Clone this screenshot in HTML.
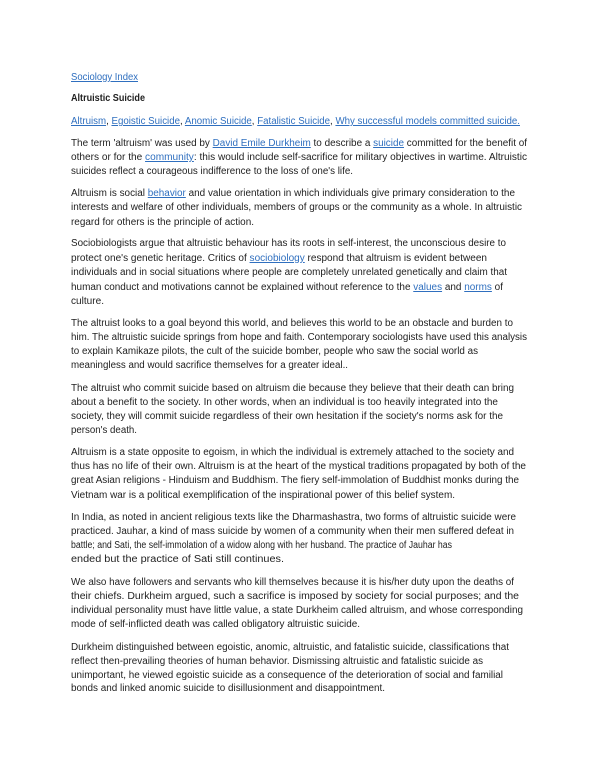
<!DOCTYPE html>
<html><head><meta charset="utf-8"><style>
html,body{margin:0;padding:0;background:#fff;}
svg{display:block}
text{font-family:"Liberation Sans",sans-serif;font-size:10px;fill:#222;}
.l{fill:#2f6fbf;text-decoration:underline;}
</style></head><body>
<svg width="600" height="776" viewBox="0 0 600 776" xmlns="http://www.w3.org/2000/svg">
<rect width="600" height="776" fill="#fff"/>
<text x="71" y="80" textLength="67" lengthAdjust="spacingAndGlyphs"><tspan class="l">Sociology Index</tspan></text>
<text x="71" y="101" textLength="74" lengthAdjust="spacingAndGlyphs" font-weight="bold">Altruistic Suicide</text>
<text x="71" y="124" textLength="449" lengthAdjust="spacingAndGlyphs"><tspan class="l">Altruism</tspan>, <tspan class="l">Egoistic Suicide</tspan>, <tspan class="l">Anomic Suicide</tspan>, <tspan class="l">Fatalistic Suicide</tspan>, <tspan class="l">Why successful models committed suicide.</tspan></text>

<text x="71" y="146" textLength="456" lengthAdjust="spacingAndGlyphs">The term 'altruism' was used by <tspan class="l">David Emile Durkheim</tspan> to describe a <tspan class="l">suicide</tspan> committed for the benefit of</text>
<text x="71" y="160" textLength="456" lengthAdjust="spacingAndGlyphs">others or for the <tspan class="l">community</tspan>: this would include self-sacrifice for military objectives in wartime. Altruistic</text>
<text x="71" y="174" textLength="282" lengthAdjust="spacingAndGlyphs">suicides reflect a courageous indifference to the loss of one's life.</text>

<text x="71" y="196" textLength="444" lengthAdjust="spacingAndGlyphs">Altruism is social <tspan class="l">behavior</tspan> and value orientation in which individuals give primary consideration to the</text>
<text x="71" y="210" textLength="451" lengthAdjust="spacingAndGlyphs">interests and welfare of other individuals, members of groups or the community as a whole. In altruistic</text>
<text x="71" y="225" textLength="183" lengthAdjust="spacingAndGlyphs">regard for others is the principle of action.</text>

<text x="71" y="246" textLength="435" lengthAdjust="spacingAndGlyphs">Sociobiologists argue that altruistic behaviour has its roots in self-interest, the unconscious desire to</text>
<text x="71" y="261" textLength="416" lengthAdjust="spacingAndGlyphs">protect one's genetic heritage. Critics of <tspan class="l">sociobiology</tspan> respond that altruism is evident between</text>
<text x="71" y="275" textLength="436" lengthAdjust="spacingAndGlyphs">individuals and in social situations where people are completely unrelated genetically and claim that</text>
<text x="71" y="290" textLength="432" lengthAdjust="spacingAndGlyphs">human conduct and motivations cannot be explained without reference to the <tspan class="l">values</tspan> and <tspan class="l">norms</tspan> of</text>
<text x="71" y="304" textLength="33" lengthAdjust="spacingAndGlyphs">culture.</text>

<text x="71" y="326" textLength="442" lengthAdjust="spacingAndGlyphs">The altruist looks to a goal beyond this world, and believes this world to be an obstacle and burden to</text>
<text x="71" y="340" textLength="456" lengthAdjust="spacingAndGlyphs">him. The altruistic suicide springs from hope and faith. Contemporary sociologists have used this analysis</text>
<text x="71" y="354" textLength="407" lengthAdjust="spacingAndGlyphs">to explain Kamikaze pilots, the cult of the suicide bomber, people who saw the social world as</text>
<text x="71" y="368" textLength="277" lengthAdjust="spacingAndGlyphs">meaningless and would sacrifice themselves for a greater ideal..</text>

<text x="71" y="391" textLength="443" lengthAdjust="spacingAndGlyphs">The altruist who commit suicide based on altruism die because they believe that their death can bring</text>
<text x="71" y="405" textLength="427" lengthAdjust="spacingAndGlyphs">about a benefit to the society. In other words, when an individual is too heavily integrated into the</text>
<text x="71" y="419" textLength="432" lengthAdjust="spacingAndGlyphs">society, they will commit suicide regardless of their own hesitation if the society's norms ask for the</text>
<text x="71" y="433" textLength="66" lengthAdjust="spacingAndGlyphs">person's death.</text>

<text x="71" y="455" textLength="443" lengthAdjust="spacingAndGlyphs">Altruism is a state opposite to egoism, in which the individual is extremely attached to the society and</text>
<text x="71" y="469" textLength="455" lengthAdjust="spacingAndGlyphs">thus has no life of their own. Altruism is at the heart of the mystical traditions propagated by both of the</text>
<text x="71" y="483" textLength="448" lengthAdjust="spacingAndGlyphs">great Asian religions - Hinduism and Buddhism. The fiery self-immolation of Buddhist monks during the</text>
<text x="71" y="498" textLength="384" lengthAdjust="spacingAndGlyphs">Vietnam war is a political exemplification of the inspirational power of this belief system.</text>

<text x="71" y="520" textLength="445" lengthAdjust="spacingAndGlyphs">In India, as noted in ancient religious texts like the Dharmashastra, two forms of altruistic suicide were</text>
<text x="71" y="534" textLength="443" lengthAdjust="spacingAndGlyphs">practiced. Jauhar, a kind of mass suicide by women of a community when their men suffered defeat in</text>
<text x="71" y="548" textLength="381" lengthAdjust="spacingAndGlyphs">battle; and Sati, the self-immolation of a widow along with her husband. The practice of Jauhar has</text>
<text x="71" y="562" textLength="213" lengthAdjust="spacingAndGlyphs">ended but the practice of Sati still continues.</text>

<text x="71" y="585" textLength="443" lengthAdjust="spacingAndGlyphs">We also have followers and servants who kill themselves because it is his/her duty upon the deaths of</text>
<text x="71" y="599" textLength="448" lengthAdjust="spacingAndGlyphs">their chiefs. Durkheim argued, such a sacrifice is imposed by society for social purposes; and the</text>
<text x="71" y="613" textLength="452" lengthAdjust="spacingAndGlyphs">individual personality must have little value, a state Durkheim called altruism, and whose corresponding</text>
<text x="71" y="627" textLength="289" lengthAdjust="spacingAndGlyphs">mode of self-inflicted death was called obligatory altruistic suicide.</text>

<text x="71" y="650" textLength="438" lengthAdjust="spacingAndGlyphs">Durkheim distinguished between egoistic, anomic, altruistic, and fatalistic suicide, classifications that</text>
<text x="71" y="664" textLength="412" lengthAdjust="spacingAndGlyphs">reflect then-prevailing theories of human behavior. Dismissing altruistic and fatalistic suicide as</text>
<text x="71" y="678" textLength="432" lengthAdjust="spacingAndGlyphs">unimportant, he viewed egoistic suicide as a consequence of the deterioration of social and familial</text>
<text x="71" y="691" textLength="314" lengthAdjust="spacingAndGlyphs">bonds and linked anomic suicide to disillusionment and disappointment.</text>
</svg>
</body></html>
